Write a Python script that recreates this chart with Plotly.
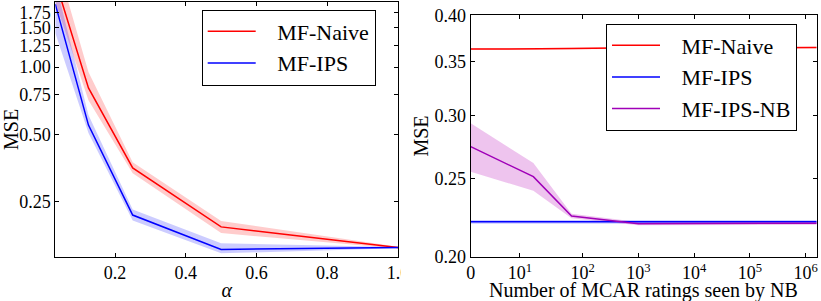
import numpy as np
import plotly.graph_objects as go

# ---------------- Left panel data (MSE vs alpha) ----------------
alpha = [0.03125, 0.125, 0.25, 0.5, 1.0]
naive_mse = [2.43, 0.806, 0.354, 0.193, 0.156]
naive_lo = [1.95, 0.71, 0.335, 0.181, 0.1545]
naive_hi = [3.10, 0.95, 0.375, 0.205, 0.1575]
ips_mse = [1.91, 0.55, 0.218, 0.153, 0.156]
ips_lo = [1.42, 0.507, 0.206, 0.147, 0.155]
ips_hi = [2.40, 0.61, 0.231, 0.163, 0.157]
left_yticks = [0.25, 0.50, 0.75, 1.00, 1.25, 1.50, 1.75]
left_xticks = [0.2, 0.4, 0.6, 0.8, 1.0]

# ---------------- Right panel data (MSE vs #MCAR ratings) ----------------
n_mcar = [0, 13, 63, 1000, 1586126]
r_naive = [0.3630, 0.3630, 0.3636, 0.3643, 0.3646]
r_naive_err = [0.0008, 0.0008, 0.0008, 0.0008, 0.0008]
r_ips = [0.2211, 0.2211, 0.2211, 0.2211, 0.2211]
r_ips_err = [0.0012, 0.0012, 0.0012, 0.0012, 0.0012]
r_nb = [0.2743, 0.2517, 0.2248, 0.2199, 0.2202]
r_nb_err = [0.019, 0.010, 0.0014, 0.0010, 0.0010]
right_yticks = [0.20, 0.25, 0.30, 0.35, 0.40]
right_xticks = [0, 10, 100, 1000, 10000, 100000, 1000000]
right_xticktext = ["0", "10<sup>1</sup>", "10<sup>2</sup>", "10<sup>3</sup>",
                   "10<sup>4</sup>", "10<sup>5</sup>", "10<sup>6</sup>"]

# symmetric-log transform (matplotlib style) since plotly has no symlog axis
LINTHRESH = 12.6
LINSCALE_ADJ = 1.0 / (1.0 - 0.1)


def symlog(v):
    v = np.asarray(v, dtype=float)
    safe = np.maximum(v, 1e-12)
    return np.where(v <= LINTHRESH, v / LINTHRESH * LINSCALE_ADJ,
                    LINSCALE_ADJ + np.log10(safe / LINTHRESH))


RED = "#ff0000"
BLUE = "#0000ff"
PURPLE = "#a000b8"
FONT = "Liberation Serif"
PAD = "\u00a0\u00a0\u00a0"


def lname(s):
    return PAD + s


fig = go.Figure()


def band(x, lo, hi, color, xa, ya, leg):
    xs = list(x) + list(x)[::-1]
    ys = list(hi) + list(lo)[::-1]
    fig.add_trace(go.Scatter(x=xs, y=ys, fill="toself", fillcolor=color,
                             line=dict(width=0), mode="lines", hoverinfo="skip",
                             showlegend=False, legend=leg, xaxis=xa, yaxis=ya))


# left panel
band(alpha, naive_lo, naive_hi, "rgba(255,0,0,0.2)", "x", "y", "legend")
band(alpha, ips_lo, ips_hi, "rgba(0,0,255,0.2)", "x", "y", "legend")
fig.add_trace(go.Scatter(x=alpha, y=naive_mse, mode="lines", name=lname("MF-Naive"),
                         line=dict(color=RED, width=1.5),
                         legend="legend", xaxis="x", yaxis="y"))
fig.add_trace(go.Scatter(x=alpha, y=ips_mse, mode="lines", name=lname("MF-IPS"),
                         line=dict(color=BLUE, width=1.5),
                         legend="legend", xaxis="x", yaxis="y"))

# right panel
xs_r = symlog(n_mcar)
for vals, err, fc in [(r_naive, r_naive_err, "rgba(255,0,0,0.2)"),
                      (r_ips, r_ips_err, "rgba(0,0,255,0.2)"),
                      (r_nb, r_nb_err, "rgba(200,60,200,0.3)")]:
    lo = [v - e for v, e in zip(vals, err)]
    hi = [v + e for v, e in zip(vals, err)]
    band(xs_r, lo, hi, fc, "x2", "y2", "legend2")
fig.add_trace(go.Scatter(x=xs_r, y=r_naive, mode="lines", name=lname("MF-Naive"),
                         line=dict(color=RED, width=1.5),
                         legend="legend2", xaxis="x2", yaxis="y2"))
fig.add_trace(go.Scatter(x=xs_r, y=r_ips, mode="lines", name=lname("MF-IPS"),
                         line=dict(color=BLUE, width=1.5),
                         legend="legend2", xaxis="x2", yaxis="y2"))
fig.add_trace(go.Scatter(x=xs_r, y=r_nb, mode="lines", name=lname("MF-IPS-NB"),
                         line=dict(color=PURPLE, width=1.5),
                         legend="legend2", xaxis="x2", yaxis="y2"))

W, H = 821, 301
TICKFONT = dict(family=FONT, size=18, color="black")
TITLEFONT = dict(family=FONT, size=20, color="black")
axis_common = dict(showline=True, linecolor="black", linewidth=1, mirror="allticks",
                   ticks="inside", ticklen=4, tickcolor="black", showgrid=False,
                   zeroline=False, tickfont=TICKFONT, automargin=False)
legend_common = dict(xanchor="left", yanchor="top", bordercolor="black",
                     borderwidth=1, bgcolor="white", traceorder="normal",
                     font=dict(family=FONT, size=22, color="black"),
                     itemwidth=48, entrywidthmode="pixels")

fig.update_layout(
    width=W, height=H, margin=dict(l=0, r=0, t=0, b=0, autoexpand=False),
    paper_bgcolor="white", plot_bgcolor="white",
    font=dict(family=FONT, size=18, color="black"),
    xaxis=dict(domain=[55.3 / W, 398 / W], range=[0.03125, 1.0], anchor="y",
               tickvals=left_xticks, ticktext=["0.2", "0.4", "0.6", "0.8", "1.0"],
               title=dict(text="<i>α</i>", font=TITLEFONT, standoff=0),
               **axis_common),
    yaxis=dict(domain=[1 - 256.7 / H, 1 - 2 / H], type="log", anchor="x",
               range=[np.log10(0.142), np.log10(1.952)],
               tickvals=left_yticks, ticktext=["%.2f" % v for v in left_yticks],
               title=dict(text="MSE", font=TITLEFONT, standoff=5),
               **axis_common),
    xaxis2=dict(domain=[470.7 / W, 816.7 / W], anchor="y2",
                range=[0, float(symlog([max(n_mcar)])[0])],
                tickvals=list(symlog(right_xticks)), ticktext=right_xticktext,
                **axis_common),
    yaxis2=dict(domain=[1 - 256.7 / H, 1 - 15.3 / H], type="log", anchor="x2",
                range=[np.log10(0.2), np.log10(0.4)],
                tickvals=right_yticks, ticktext=["%.2f" % v for v in right_yticks],
                title=dict(text="MSE", font=TITLEFONT, standoff=0),
                **axis_common),
    legend=dict(x=201.7 / W, y=1 - 9.5 / H, entrywidth=184, **legend_common),
    legend2=dict(x=606 / W, y=1 - 23.5 / H, entrywidth=199, **legend_common),
    annotations=[dict(text="Number of MCAR ratings seen by NB", xref="paper",
                      yref="paper", x=643.7 / W, y=1 - 290.5 / H, xanchor="center",
                      yanchor="middle", showarrow=False, font=TITLEFONT)],
    shapes=[dict(type="rect", xref="paper", yref="paper",
                 x0=401 / W, x1=428 / W, y0=1 - 287 / H, y1=1 - 259 / H,
                 fillcolor="white", line=dict(width=0), layer="above")],
)

fig.write_html("out.html", config={"displayModeBar": False},
               post_script="document.body.style.margin='0px';"
                           "document.body.style.overflow='hidden';")
